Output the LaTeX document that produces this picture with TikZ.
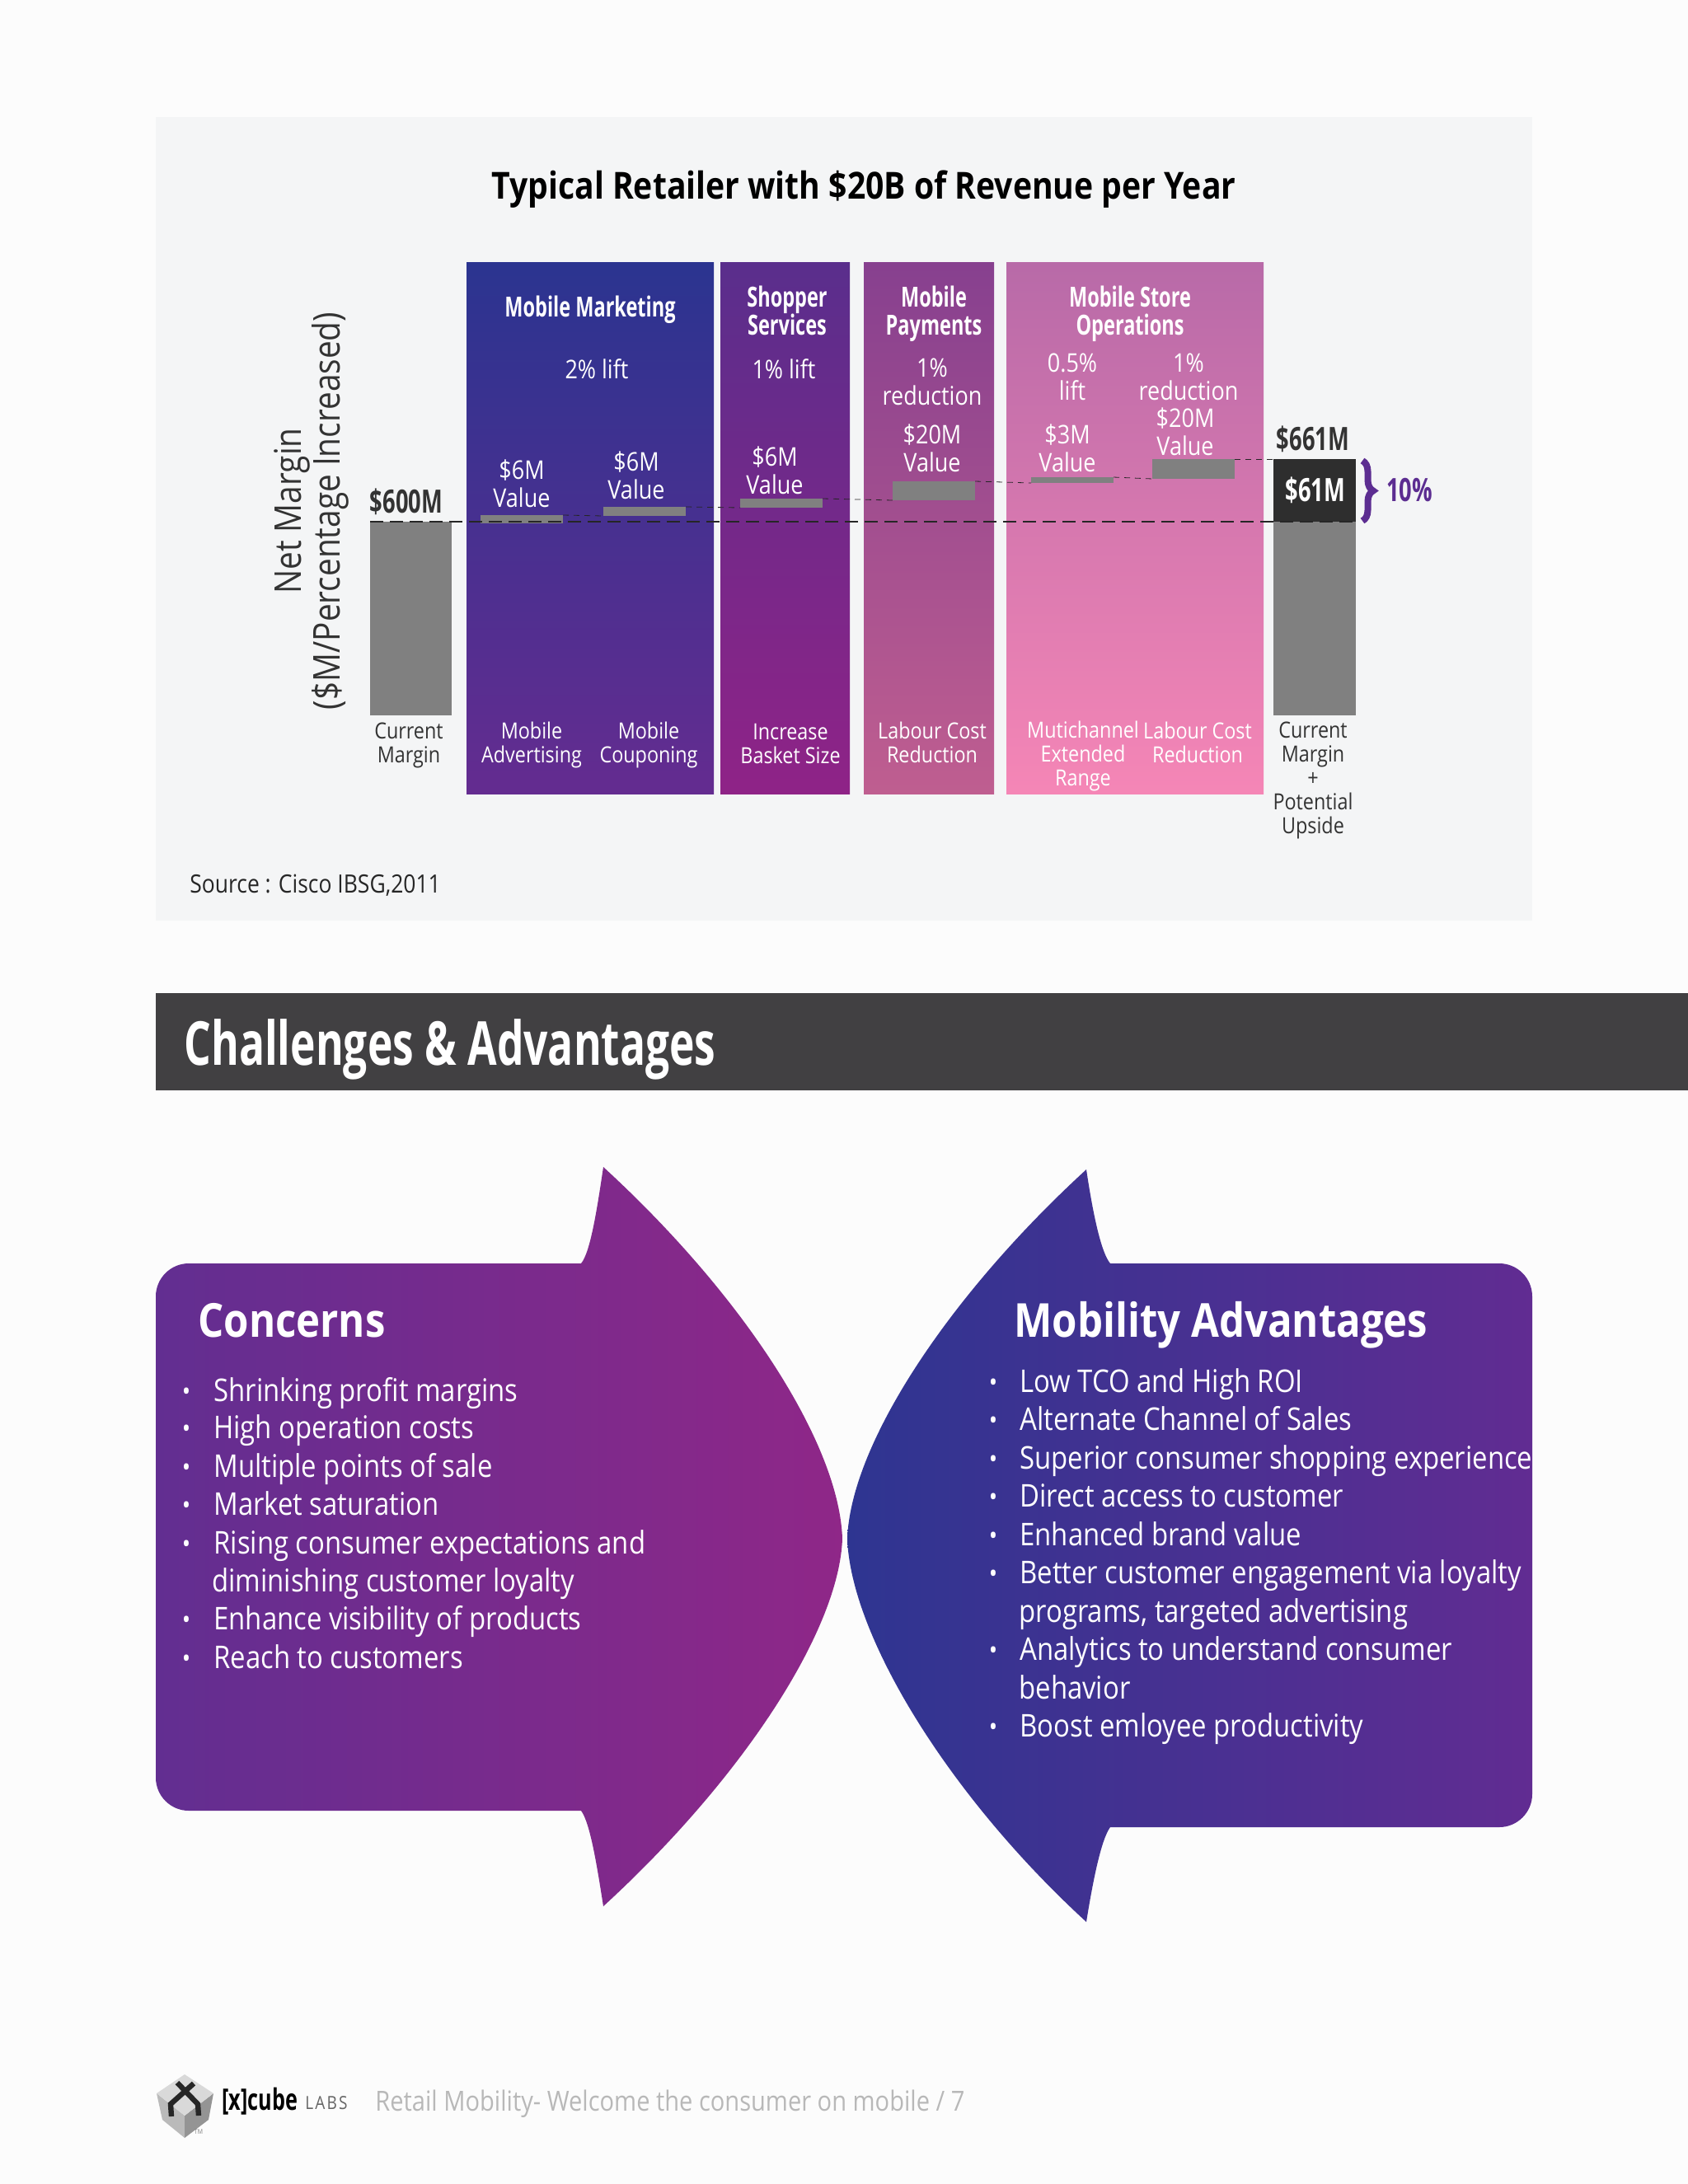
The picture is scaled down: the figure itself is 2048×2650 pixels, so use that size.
\documentclass[tikz,border=0pt]{standalone}
\usepackage{fontspec}
\setmainfont{Open Sans}[FakeStretch=0.865]
\newfontfamily\condf{Open Sans}[FakeStretch=0.7]
\usetikzlibrary{decorations.pathreplacing,calc}
\definecolor{panelbg}{HTML}{F4F5F6}
\definecolor{barg}{HTML}{808080}
\definecolor{inkd}{HTML}{333333}
\definecolor{hdr}{HTML}{414042}
\definecolor{purp}{HTML}{5C2D91}
\definecolor{ca}{HTML}{2B3490}\definecolor{cb}{HTML}{642C90}
\definecolor{cc}{HTML}{5A2E8C}\definecolor{cd}{HTML}{8F2387}
\definecolor{ce}{HTML}{87408F}\definecolor{cf}{HTML}{BF5E90}
\definecolor{cg}{HTML}{B86AA8}\definecolor{ch}{HTML}{F586B6}
\definecolor{al}{HTML}{622E91}\definecolor{ar}{HTML}{8F2788}
\definecolor{bl}{HTML}{2E3591}\definecolor{br}{HTML}{612C92}
\newcommand\boxn[6]{\node[inner sep=0,outer sep=0,anchor=north west,minimum width={(#4-#2)*0.5pt},minimum height={(#5-#3)*0.5pt},#6] (#1) at (#2,#3) {};}
\tikzset{
  x=0.5pt,y=-0.5pt,
  gbar/.style={fill=barg},
  val/.style={inner sep=0,align=center,text=white,execute at begin node={\fontsize{15.6}{17}\selectfont}},
  vald/.style={inner sep=0,align=center,text=white,execute at begin node={\fontsize{13.5}{14.5}\selectfont}},
  valk/.style={vald,text=inkd},
  head/.style={inner sep=0,align=center,text=white,execute at begin node={\condf\bfseries\fontsize{16.8}{17}\selectfont}},
  big/.style={inner sep=0,text=inkd,execute at begin node={\condf\bfseries\fontsize{19.5}{19.5}\selectfont}},
  listl/.style={inner sep=0,anchor=west,text=white,text height=19pt,text depth=5.7pt,execute at begin node={\fontsize{19}{23}\selectfont}},
  bul/.style={inner sep=0,text=white,yshift=-2.5pt,execute at begin node={\fontsize{16}{16}\selectfont}},
  hd2/.style={inner sep=0,anchor=west,text=white,text height=28.4pt,text depth=8.5pt,execute at begin node={\bfseries\fontsize{28.4}{28.4}\selectfont}},
  link/.style={dash pattern=on 3.5pt off 3pt,line width=0.4pt,color=black!85},
}
\begin{document}
\begin{tikzpicture}
\useasboundingbox (0,0) rectangle (2048,2650);
\fill[white!99!black] (0,0) rectangle (2048,2650);
\boxn{panel}{189}{142}{1859}{1117}{fill=panelbg}
\node[inner sep=0,execute at begin node={\bfseries\fontsize{22.6}{22.6}\selectfont}] (title) at (1048,230) {Typical Retailer with \$20B of Revenue per Year};
% columns
\boxn{c1}{566}{318}{866}{963}{top color=ca,bottom color=cb}
\boxn{c2}{874}{318}{1031}{963}{top color=cc,bottom color=cd}
\boxn{c3}{1048}{318}{1206}{963}{top color=ce,bottom color=cf}
\boxn{c4}{1221}{318}{1533}{963}{top color=cg,bottom color=ch}
% bars
\boxn{cur}{449}{633}{548}{868}{gbar}
\boxn{fin}{1545}{633}{1645}{868}{gbar}
\boxn{up}{1545}{557}{1645}{633}{fill=black!82}
\boxn{b1}{583}{625}{683}{635}{gbar}
\boxn{b2}{732}{615}{832}{626}{gbar}
\boxn{b3}{898}{605}{998}{616}{gbar}
\boxn{b4}{1083}{584}{1183}{607}{gbar}
\boxn{b5}{1251}{579}{1351}{586}{gbar}
\boxn{b6}{1398}{557}{1498}{581}{gbar}
\draw[link] (b1.north east) -- (b2.south west);
\draw[link] (b2.north east) -- (b3.south west);
\draw[link] (b3.north east) -- (b4.south west);
\draw[link] (b4.north east) -- (b5.south west);
\draw[link] (b5.north east) -- (b6.south west);
\draw[link] (b6.north east) -- (up.north west);
\draw[dash pattern=on 8pt off 4pt,line width=0.8pt,color=black!85] (cur.north west) -- (fin.north east);
% y label
\node[inner sep=0,rotate=90,align=center,text=inkd,execute at begin node={\fontsize{22.4}{23.5}\selectfont}] (ylab) at (378,620) {Net Margin\\(\$M/Percentage Increased)};
% column text
\node[head] (t1) at (716,376) {Mobile Marketing};
\node[head] (t2) at (955,377) {Shopper\\Services};
\node[head] (t3) at (1133,381) {Mobile\\Payments};
\node[head] (t4) at (1371,381) {Mobile Store\\Operations};
\node[val] (l1) at (724,448) {2\% lift};
\node[val] (l2) at (951,448) {1\% lift};
\node[val] (l3) at (1131,463) {1\%\\reduction};
\node[val] (l4) at (1301,457) {0.5\%\\lift};
\node[val] (l5) at (1442,457) {1\%\\reduction};
\node[val] (v1) at (633,587) {\$6M\\Value};
\node[val] (v2) at (772,577) {\$6M\\Value};
\node[val] (v3) at (940,571) {\$6M\\Value};
\node[val] (v4) at (1131,544) {\$20M\\Value};
\node[val] (v5) at (1295,544) {\$3M\\Value};
\node[val] (v6) at (1438,524) {\$20M\\Value};
\node[big] (m600) at (493,609) {\$600M};
\node[big] (m661) at (1593,533) {\$661M};
\node[big,text=white] (m61) at (1596,595) {\$61M};
\node[big,text=purp] (pct) at (1710,595) {10\%};
\coordinate (bt) at (1653,559);
\coordinate (bb) at (1653,632);
\draw[purp,line width=4pt,decorate,decoration={brace,amplitude=6.5pt}] (bt) -- (bb);
% bottom labels
\node[valk] (s0) at (496,904) {Current\\Margin};
\node[vald] (s1) at (645,904) {Mobile\\Advertising};
\node[vald] (s2) at (787,904) {Mobile\\Couponing};
\node[vald] (s3) at (959,902) {Increase\\Basket Size};
\node[vald] (s4) at (1131,901) {Labour Cost\\Reduction};
\node[vald] (s5) at (1314,917) {Mutichannel\\Extended\\Range};
\node[vald] (s6) at (1453,901) {Labour Cost\\Reduction};
\node[valk] (s7) at (1593,947) {Current\\Margin\\+\\Potential\\Upside};
\node[inner sep=0,anchor=west,text=black!85,execute at begin node={\fontsize{15.3}{15.3}\selectfont}] (src) at (230,1074) {Source : Cisco IBSG,2011};
% header
\boxn{hbar}{189}{1205}{2048}{1323}{fill=hdr}
\node[inner sep=0,anchor=west,text=white,execute at begin node={\condf\bfseries\fontsize{36.8}{36.8}\selectfont}] (htitle) at (223,1273) {Challenges \& Advantages};
% arrows
\path[left color=al,right color=ar] (705,1533) -- (229,1533) .. controls (207,1533) and (189,1551) .. (189,1573) -- (189,2157) .. controls (189,2179) and (207,2197) .. (229,2197) -- (705,2197) .. controls (716,2212) and (724,2262) .. (732,2313) .. controls (900,2159) and (1018,1979) .. (1022,1867) .. controls (1018,1750) and (900,1570) .. (732,1416) .. controls (724,1470) and (716,1520) .. (705,1533) -- cycle;
\path[left color=bl,right color=br] (1347,1533) -- (1819,1533) .. controls (1841,1533) and (1859,1551) .. (1859,1573) -- (1859,2177) .. controls (1859,2199) and (1841,2217) .. (1819,2217) -- (1347,2217) .. controls (1336,2232) and (1326,2282) .. (1318,2332) .. controls (1150,2178) and (1032,1984) .. (1028,1867) .. controls (1032,1753) and (1150,1573) .. (1318,1419) .. controls (1326,1473) and (1336,1520) .. (1347,1533) -- cycle;
\node[hd2] (hc) at (240,1603) {Concerns};
\node[hd2] (ha) at (1230,1603) {Mobility Advantages};
% left list
\foreach \i/\yy/\tx in {1/1687/Shrinking profit margins,2/1732/High operation costs,3/1779/Multiple points of sale,4/1825/Market saturation,5/1872/Rising consumer expectations and,6/1964/Enhance visibility of products,7/2011/Reach to customers}{
  \node[bul] (lb\i) at (226,\yy) {•};
  \node[listl] (lt\i) at (259,\yy) {\tx};
}
\node[listl] (lt5b) at (257,1918) {diminishing customer loyalty};
% right list
\foreach \i/\yy/\tx in {1/1676/Low TCO and High ROI,2/1722/Alternate Channel of Sales,3/1769/Superior consumer shopping experience,4/1815/Direct access to customer,5/1862/Enhanced brand value,6/1908/Better customer engagement via loyalty,7/2001/Analytics to understand consumer,8/2094/Boost emloyee productivity}{
  \node[bul] (rb\i) at (1205,\yy) {•};
  \node[listl] (rt\i) at (1237,\yy) {\tx};
}
\node[listl] (rt6b) at (1236,1955) {programs, targeted advertising};
\node[listl] (rt7b) at (1236,2048) {behavior};
% logo
\fill[black!27] (224,2567) -- (190,2540) -- (197,2572) -- (224,2594) -- cycle;
\fill[black!42] (224,2567) -- (259,2540) -- (253,2572) -- (224,2594) -- cycle;
\fill[black!15] (224,2517) -- (259,2540) -- (224,2567) -- (190,2540) -- cycle;
\draw[black!85,line width=3.2pt,line join=miter] (215,2527) -- (240,2553) -- (241,2567);
\draw[black!85,line width=3.2pt,line join=miter] (235,2528) -- (207,2553) -- (208,2568);
\node[inner sep=0,text=black!50,execute at begin node={\fontsize{4}{4}\selectfont}] (tm) at (241,2587) {TM};
\node[inner sep=0,anchor=west,text=black,execute at begin node={\condf\bfseries\fontsize{18}{18}\selectfont}] (lg) at (269,2550) {[x]cube};
\node[inner sep=0,anchor=west,text=black!60,execute at begin node={\fontsize{11}{11}\selectfont\addfontfeature{LetterSpace=10}}] (lg2) at (370,2552) {LABS};
\node[inner sep=0,anchor=west,text=black!28,execute at begin node={\fontsize{16.8}{16.8}\selectfont}] (foot) at (455,2553) {Retail Mobility- Welcome the consumer on mobile / 7};
\end{tikzpicture}
\end{document}
